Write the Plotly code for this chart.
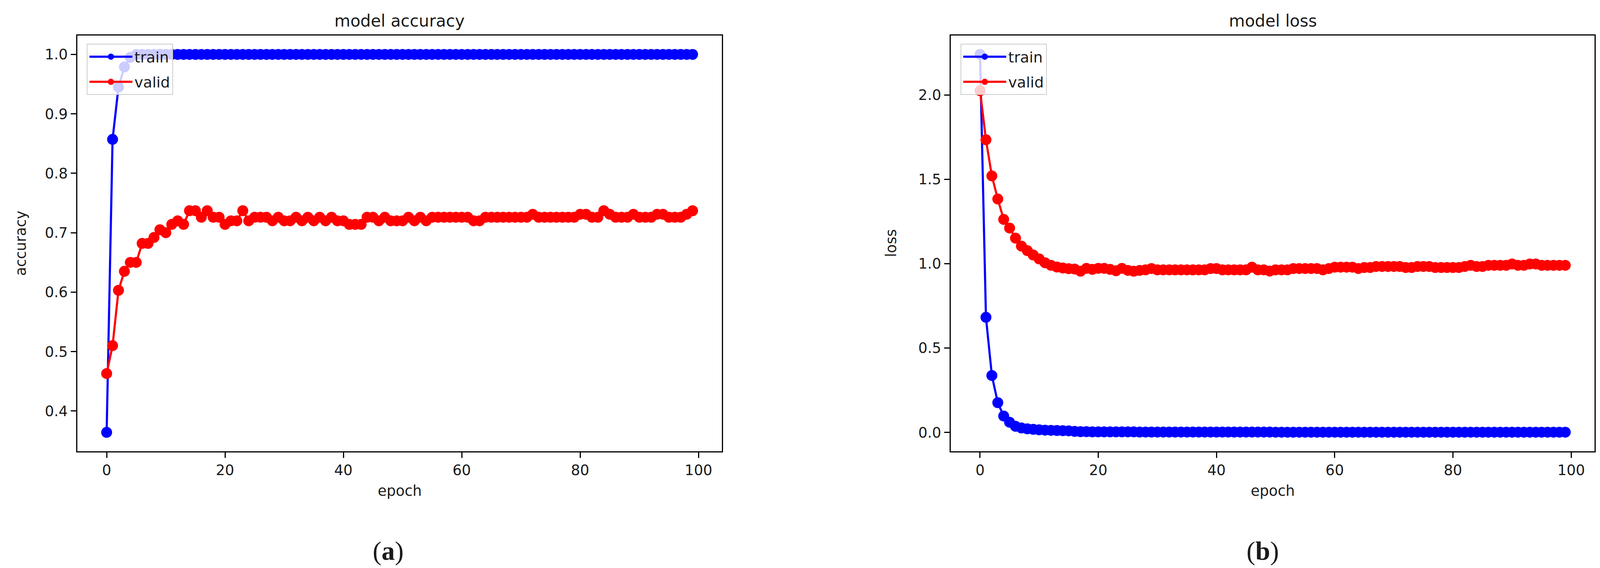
import plotly.graph_objects as go

# ---------------------------
# data
# ---------------------------
epochs = list(range(100))

train_acc = [
    0.364, 0.857, 0.945, 0.979, 0.995, 1.000, 1.000, 1.000, 1.000, 1.000,
    1.000, 1.000, 1.000, 1.000, 1.000, 1.000, 1.000, 1.000, 1.000, 1.000,
    1.000, 1.000, 1.000, 1.000, 1.000, 1.000, 1.000, 1.000, 1.000, 1.000,
    1.000, 1.000, 1.000, 1.000, 1.000, 1.000, 1.000, 1.000, 1.000, 1.000,
    1.000, 1.000, 1.000, 1.000, 1.000, 1.000, 1.000, 1.000, 1.000, 1.000,
    1.000, 1.000, 1.000, 1.000, 1.000, 1.000, 1.000, 1.000, 1.000, 1.000,
    1.000, 1.000, 1.000, 1.000, 1.000, 1.000, 1.000, 1.000, 1.000, 1.000,
    1.000, 1.000, 1.000, 1.000, 1.000, 1.000, 1.000, 1.000, 1.000, 1.000,
    1.000, 1.000, 1.000, 1.000, 1.000, 1.000, 1.000, 1.000, 1.000, 1.000,
    1.000, 1.000, 1.000, 1.000, 1.000, 1.000, 1.000, 1.000, 1.000, 1.000,
]

valid_acc = [
    0.463, 0.510, 0.603, 0.635, 0.650, 0.650, 0.682, 0.682, 0.692, 0.705,
    0.700, 0.714, 0.720, 0.714, 0.737, 0.737, 0.726, 0.737, 0.726, 0.726,
    0.714, 0.720, 0.720, 0.737, 0.720, 0.726, 0.726, 0.726, 0.720, 0.726,
    0.720, 0.720, 0.726, 0.720, 0.726, 0.720, 0.726, 0.720, 0.726, 0.720,
    0.720, 0.714, 0.714, 0.714, 0.726, 0.726, 0.720, 0.726, 0.720, 0.720,
    0.720, 0.726, 0.720, 0.726, 0.720, 0.726, 0.726, 0.726, 0.726, 0.726,
    0.726, 0.726, 0.720, 0.720, 0.726, 0.726, 0.726, 0.726, 0.726, 0.726,
    0.726, 0.726, 0.731, 0.726, 0.726, 0.726, 0.726, 0.726, 0.726, 0.726,
    0.731, 0.731, 0.726, 0.726, 0.737, 0.731, 0.726, 0.726, 0.726, 0.731,
    0.726, 0.726, 0.726, 0.731, 0.731, 0.726, 0.726, 0.726, 0.731, 0.737,
]

train_loss = [
    2.240, 0.682, 0.337, 0.176, 0.097, 0.060, 0.036, 0.026, 0.021, 0.018,
    0.015, 0.013, 0.012, 0.011, 0.010, 0.009, 0.006, 0.004, 0.004, 0.003,
    0.003, 0.003, 0.003, 0.003, 0.003, 0.003, 0.003, 0.002, 0.002, 0.002,
    0.002, 0.002, 0.002, 0.002, 0.002, 0.002, 0.002, 0.002, 0.002, 0.002,
    0.002, 0.002, 0.002, 0.002, 0.002, 0.002, 0.002, 0.002, 0.002, 0.002,
    0.001, 0.001, 0.001, 0.001, 0.001, 0.001, 0.001, 0.001, 0.001, 0.001,
    0.001, 0.001, 0.001, 0.001, 0.001, 0.001, 0.001, 0.001, 0.001, 0.001,
    0.001, 0.001, 0.001, 0.001, 0.001, 0.001, 0.001, 0.001, 0.001, 0.001,
    0.001, 0.001, 0.001, 0.001, 0.001, 0.001, 0.001, 0.001, 0.001, 0.001,
    0.001, 0.001, 0.001, 0.001, 0.001, 0.001, 0.001, 0.001, 0.001, 0.001,
]

valid_loss = [
    2.025, 1.734, 1.520, 1.383, 1.262, 1.211, 1.151, 1.104, 1.077, 1.051,
    1.028, 1.005, 0.990, 0.980, 0.974, 0.970, 0.968, 0.955, 0.972, 0.966,
    0.972, 0.972, 0.966, 0.958, 0.972, 0.960, 0.955, 0.960, 0.963, 0.971,
    0.963, 0.963, 0.963, 0.963, 0.963, 0.963, 0.963, 0.963, 0.963, 0.971,
    0.971, 0.963, 0.963, 0.963, 0.963, 0.963, 0.979, 0.963, 0.963, 0.956,
    0.963, 0.963, 0.963, 0.971, 0.971, 0.971, 0.971, 0.971, 0.963, 0.971,
    0.979, 0.979, 0.979, 0.979, 0.971, 0.977, 0.977, 0.983, 0.983, 0.983,
    0.983, 0.983, 0.977, 0.977, 0.983, 0.983, 0.983, 0.977, 0.977, 0.977,
    0.977, 0.977, 0.983, 0.990, 0.983, 0.983, 0.990, 0.990, 0.990, 0.990,
    0.998, 0.990, 0.990, 0.998, 0.998, 0.990, 0.990, 0.990, 0.990, 0.990,
]

x_ticks = [0, 20, 40, 60, 80, 100]
acc_ticks = [0.4, 0.5, 0.6, 0.7, 0.8, 0.9, 1.0]
loss_ticks = [0.0, 0.5, 1.0, 1.5, 2.0]

# ---------------------------
# figure
# ---------------------------
W, H = 4117, 1455
FONT = "DejaVu Sans"
BLUE = "#0000ff"
RED = "#ff0000"


def px_x(p):
    return p / W


def px_y(p):
    return 1 - p / H


fig = go.Figure()

for xa, ya, leg, tr, va in [("x", "y", "legend", train_acc, valid_acc),
                            ("x2", "y2", "legend2", train_loss, valid_loss)]:
    fig.add_trace(go.Scatter(
        x=epochs, y=tr, mode="lines+markers", name="train",
        line=dict(color=BLUE, width=5.5),
        marker=dict(color=BLUE, size=28, line=dict(width=0)),
        xaxis=xa, yaxis=ya, legend=leg, legendgroup="train" + leg
    ))
    fig.add_trace(go.Scatter(
        x=epochs, y=va, mode="lines+markers", name="valid",
        line=dict(color=RED, width=5.5),
        marker=dict(color=RED, size=28, line=dict(width=0)),
        xaxis=xa, yaxis=ya, legend=leg, legendgroup="valid" + leg
    ))

axis_common = dict(
    showline=True, linecolor="black", linewidth=3, mirror=True,
    ticks="outside", ticklen=14, tickwidth=3, tickcolor="black",
    showgrid=False, zeroline=False,
    tickfont=dict(family=FONT, size=37, color="#1a1a1a"),
)

left_dom = [px_x(190), px_x(1840)]
right_dom = [px_x(2426), px_x(4074)]
y_dom = [px_y(1148), px_y(83)]

legend_common = dict(
    xanchor="left", yanchor="top",
    bgcolor="rgba(255,255,255,0.8)", bordercolor="#cccccc",
    borderwidth=2, itemwidth=110, tracegroupgap=12,
    font=dict(family=FONT, size=38, color="#1a1a1a"),
)

fig.update_layout(
    width=W, height=H,
    margin=dict(l=0, r=0, t=0, b=0),
    paper_bgcolor="white", plot_bgcolor="white",
    xaxis=dict(domain=left_dom, range=[-4.95, 103.95], tickvals=x_ticks,
               anchor="y", **axis_common),
    yaxis=dict(domain=y_dom, range=[0.3322, 1.0318], tickvals=acc_ticks,
               tickformat=".1f", anchor="x", **axis_common),
    xaxis2=dict(domain=right_dom, range=[-4.95, 103.95], tickvals=x_ticks,
                anchor="y2", **axis_common),
    yaxis2=dict(domain=y_dom, range=[-0.112, 2.352], tickvals=loss_ticks,
                tickformat=".1f", anchor="x2", **axis_common),
    legend=dict(x=px_x(214), y=px_y(104), **legend_common),
    legend2=dict(x=px_x(2451), y=px_y(104), **legend_common),
    showlegend=True,
)

# titles, axis labels and captions
texts = [
    ("model accuracy", (190 + 1840) / 2, 45, 0, 42, FONT),
    ("model loss", (2426 + 4074) / 2, 45, 0, 42, FONT),
    ("epoch", (190 + 1840) / 2, 1249, 0, 37, FONT),
    ("epoch", (2426 + 4074) / 2, 1249, 0, 37, FONT),
    ("accuracy", 45, (83 + 1148) / 2, -90, 37, FONT),
    ("loss", 2273, (83 + 1148) / 2, -90, 37, FONT),
    ("(<b>a</b>)", 985, 1403, 0, 68, "Liberation Serif"),
    ("(<b>b</b>)", 3224, 1403, 0, 68, "Liberation Serif"),
]
for txt, xp, yp, ang, size, fam in texts:
    fig.add_annotation(
        text=txt, x=px_x(xp), y=px_y(yp), xref="paper", yref="paper",
        xanchor="center", yanchor="middle", showarrow=False, textangle=ang,
        font=dict(family=fam, size=size, color="#1a1a1a")
    )

fig.write_html("out.html")
